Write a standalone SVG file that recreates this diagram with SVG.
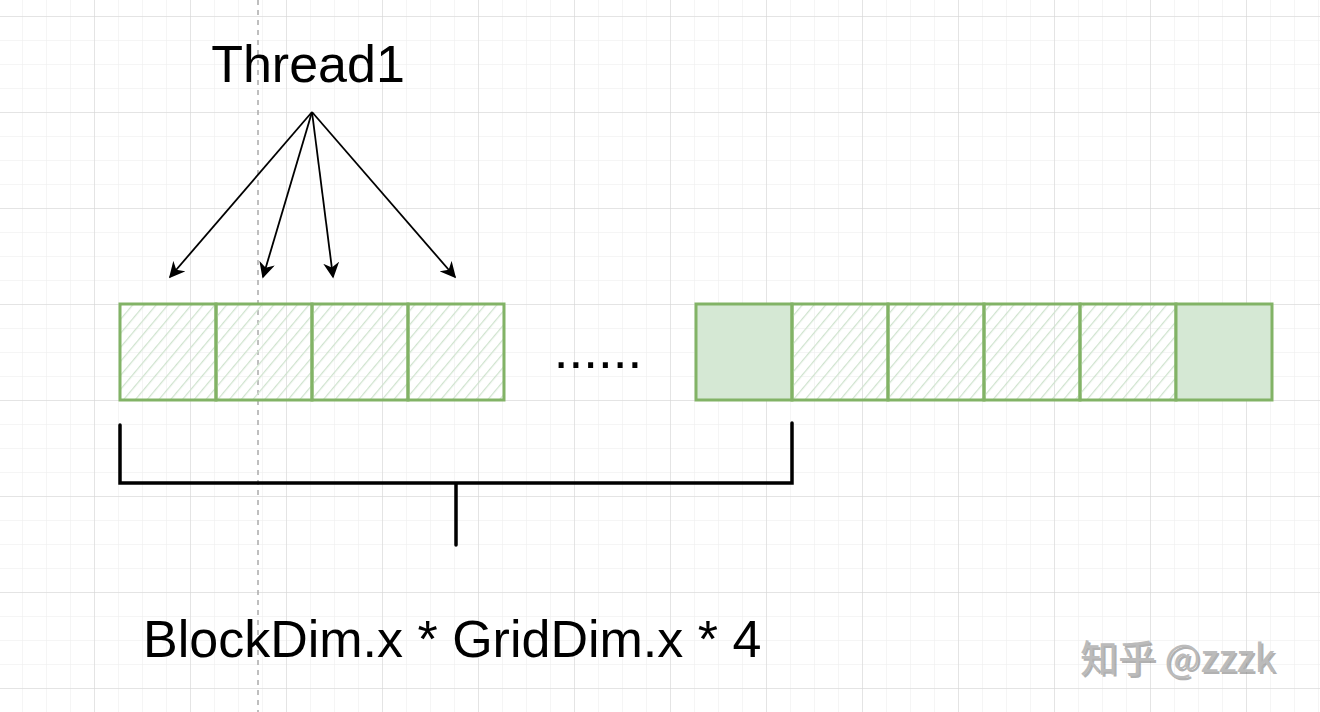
<svg xmlns="http://www.w3.org/2000/svg" width="1320" height="712" viewBox="0 0 1320 712">
<defs>
<pattern id="minor" width="24" height="24" patternUnits="userSpaceOnUse" x="22" y="16"><path d="M0 0H24M0 0V24" fill="none" stroke="#ebebeb" stroke-width="1"/></pattern>
<pattern id="major" width="96" height="96" patternUnits="userSpaceOnUse" x="94" y="16"><path d="M0 0H96M0 0V96" fill="none" stroke="#d4d4d4" stroke-width="1"/></pattern>
<pattern id="hatch" width="9" height="9" patternUnits="userSpaceOnUse" patternTransform="rotate(40)"><line x1="0" y1="0" x2="0" y2="9" stroke="#cfe3ce" stroke-width="2.5"/></pattern>
<marker id="ah" viewBox="0 0 10 10" refX="9" refY="5" markerWidth="16" markerHeight="16" markerUnits="userSpaceOnUse" orient="auto"><path d="M0 0L10 5L0 10L3 5Z" fill="#000"/></marker>
<style>
.cell{stroke:#82b366;stroke-width:3;}
.h{fill:url(#hatch);}
.s{fill:#d5e8d4;}
.t{font-family:"Liberation Sans",Arial,sans-serif;fill:#000;}
.br{fill:none;stroke:#000;stroke-width:3.5;stroke-linecap:round;}
</style>
</defs>
<rect width="1320" height="712" fill="#fff"/>
<rect width="1320" height="712" fill="url(#minor)"/>
<rect width="1320" height="712" fill="url(#major)"/>
<line x1="258" y1="0" x2="258" y2="712" stroke="#aaa" stroke-width="1.5" stroke-dasharray="5 5"/>
<g id="text-thread"><text class="t" x="308" y="82" font-size="52" text-anchor="middle">Thread1</text></g>
<g id="row1">
<rect id="c1" class="cell h" x="120" y="304" width="96" height="96"/>
<rect id="c2" class="cell h" x="216" y="304" width="96" height="96"/>
<rect id="c3" class="cell h" x="312" y="304" width="96" height="96"/>
<rect id="c4" class="cell h" x="408" y="304" width="96" height="96"/>
</g>
<g id="dots"><text class="t" x="598" y="368" font-size="53" text-anchor="middle">......</text></g>
<g id="row2">
<rect id="c5" class="cell s" x="696" y="304" width="96" height="96"/>
<rect id="c6" class="cell h" x="792" y="304" width="96" height="96"/>
<rect id="c7" class="cell h" x="888" y="304" width="96" height="96"/>
<rect id="c8" class="cell h" x="984" y="304" width="96" height="96"/>
<rect id="c9" class="cell h" x="1080" y="304" width="96" height="96"/>
<rect id="c10" class="cell s" x="1176" y="304" width="96" height="96"/>
</g>
<g id="connectors" stroke="#000" stroke-width="1.8" fill="none">
<line x1="312" y1="112" x2="170" y2="277" marker-end="url(#ah)"/>
<line x1="312" y1="112" x2="263" y2="277" marker-end="url(#ah)"/>
<line x1="312" y1="112" x2="333" y2="277" marker-end="url(#ah)"/>
<line x1="312" y1="112" x2="455" y2="277" marker-end="url(#ah)"/>
</g>
<g id="bracket"><path class="br" d="M120 425V483H792V423M456 483V545"/></g>
<g id="text-bottom"><text class="t" x="143" y="657" font-size="52">BlockDim.x * GridDim.x * 4</text></g>
<g id="watermark" font-family="'Noto Sans CJK SC','Liberation Sans',sans-serif" font-size="38">
<text x="1082" y="674" fill="#666" opacity="0.5">知乎 @zzzk</text>
<text x="1080" y="672" fill="#bbb">知乎 @zzzk</text>
</g>
</svg>
